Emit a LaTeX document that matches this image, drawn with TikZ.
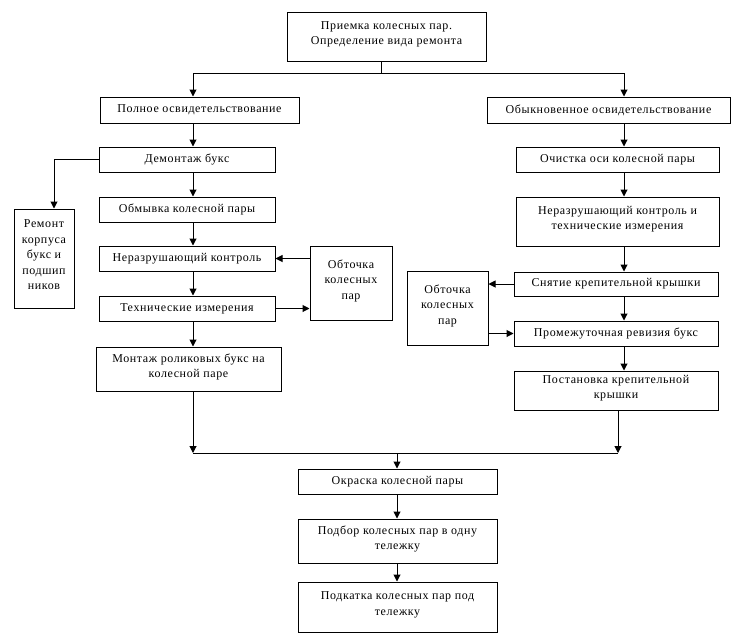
\documentclass[tikz,border=0pt]{standalone}
\usepackage{fontspec}
\setmainfont{Liberation Serif}[LetterSpace=5]
\usetikzlibrary{arrows.meta}
\begin{document}
\begin{tikzpicture}[x=1pt,y=-1pt,
  box/.style={draw,line width=1pt,inner sep=0pt,align=center,font=\fontsize{12}{15.5}\selectfont},
  up/.style={text depth=7pt},
  arr/.style={line width=1pt,-{Triangle[length=7pt,width=7pt]}},
  ln/.style={line width=1pt}]
\useasboundingbox (0,0) rectangle (733,640);
\fill[white] (0,0) rectangle (733,640);
% nodes
\node[box,up,minimum width=199pt,minimum height=49pt] (top) at (386.5,36.5) {Приемка колесных пар.\\Определение вида ремонта};
\node[box,minimum width=199pt,minimum height=26pt] (poln) at (199.5,110) {Полное освидетельствование};
\node[box,minimum width=176pt,minimum height=25pt] (dem) at (187,159.5) {Демонтаж букс};
\node[box,minimum width=176pt,minimum height=25pt] (obm) at (187,209.5) {Обмывка колесной пары};
\node[box,up,minimum width=60pt,minimum height=99pt] (rem) at (44,258.5) {Ремонт\\корпуса\\букс и\\подшип\\ников};
\node[box,minimum width=176pt,minimum height=25pt] (ner) at (187,258.5) {Неразрушающий контроль};
\node[box,minimum width=176pt,minimum height=25pt] (teh) at (187,308.5) {Технические измерения};
\node[box,up,minimum width=185pt,minimum height=44pt] (mon) at (188.5,369) {Монтаж роликовых букс на\\колесной паре};
\node[box,up,minimum width=82pt,minimum height=74pt] (obtL) at (351,283) {Обточка\\колесных\\пар};
\node[box,minimum width=243pt,minimum height=26pt] (obyk) at (608.5,110) {Обыкновенное освидетельствование};
\node[box,minimum width=203pt,minimum height=25pt] (och) at (617.5,159.5) {Очистка оси колесной пары};
\node[box,up,minimum width=203pt,minimum height=49pt] (nerR) at (617.5,221.5) {Неразрушающий контроль и\\технические измерения};
\node[box,minimum width=204pt,minimum height=24pt] (snat) at (616,284) {Снятие крепительной крышки};
\node[box,minimum width=204pt,minimum height=25pt] (prom) at (616,333.5) {Промежуточная ревизия букс};
\node[box,up,minimum width=204pt,minimum height=39pt] (post) at (616,390.5) {Постановка крепительной\\крышки};
\node[box,up,minimum width=81pt,minimum height=74pt] (obtR) at (447.5,308) {Обточка\\колесных\\пар};
\node[box,minimum width=199pt,minimum height=25pt] (okr) at (397.5,481.5) {Окраска колесной пары};
\node[box,up,minimum width=199pt,minimum height=44pt] (podb) at (397.5,541) {Подбор колесных пар в одну\\тележку};
\node[box,up,minimum width=199pt,minimum height=50pt] (podk) at (397.5,607) {Подкатка колесных пар под\\тележку};
% helper coordinates
\coordinate (cL) at (193,0);
\coordinate (cR) at (624,0);
\coordinate (cT) at (381,0);
\coordinate (split) at (381,73);
\coordinate (jL) at (193,453);
\coordinate (jR) at (618,453);
\coordinate (jM) at (397,453);
\coordinate (cRem) at (54,0);
% connectors
\draw[ln] (top.south -| cT) -- (split);
\draw[arr] (split) -| (poln.north -| cL);
\draw[arr] (split) -| (obyk.north -| cR);
\draw[arr] (poln.south -| cL) -- (dem.north -| cL);
\draw[arr] (dem.south -| cL) -- (obm.north -| cL);
\draw[arr] (obm.south -| cL) -- (ner.north -| cL);
\draw[arr] (ner.south -| cL) -- (teh.north -| cL);
\draw[arr] (teh.south -| cL) -- (mon.north -| cL);
\draw[arr] (dem.west) -| (rem.north -| cRem);
\draw[arr] (obtL.west |- ner.east) -- (ner.east);
\draw[arr] (teh.east) -- (obtL.west |- teh.east);
\draw[arr] (obyk.south -| cR) -- (och.north -| cR);
\draw[arr] (och.south -| cR) -- (nerR.north -| cR);
\draw[arr] (nerR.south -| cR) -- (snat.north -| cR);
\draw[arr] (snat.south -| cR) -- (prom.north -| cR);
\draw[arr] (prom.south -| cR) -- (post.north -| cR);
\draw[arr] (snat.west) -- (obtR.east |- snat.west);
\draw[arr] (obtR.east |- prom.west) -- (prom.west);
\draw[arr] (mon.south -| cL) -- (jL);
\draw[arr] (post.south -| jR) -- (jR);
\draw[ln] (jL) -- (jR);
\draw[arr] (jM) -- (okr.north -| jM);
\draw[arr] (okr.south -| jM) -- (podb.north -| jM);
\draw[arr] (podb.south -| jM) -- (podk.north -| jM);
\end{tikzpicture}
\end{document}
